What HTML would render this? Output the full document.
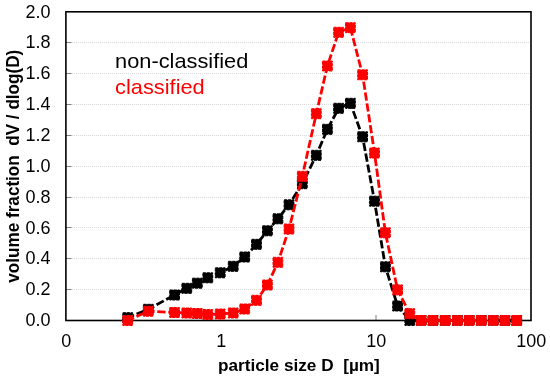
<!DOCTYPE html>
<html><head><meta charset="utf-8"><title>particle size distribution</title>
<style>
html,body{margin:0;padding:0;background:#fff;}
body{width:550px;height:380px;overflow:hidden;}
svg{display:block;}
text{font-family:"Liberation Sans",Arial,Helvetica,sans-serif;}
</style></head><body>
<svg width="550" height="380" viewBox="0 0 550 380">
<rect x="0" y="0" width="550" height="380" fill="#fff"/>
<line x1="65.9" y1="289.50" x2="529" y2="289.50" stroke="#d8d8d8" stroke-width="1" stroke-dasharray="1 1"/>
<line x1="65.9" y1="289.50" x2="71.5" y2="289.50" stroke="#808080" stroke-width="1"/>
<line x1="65.9" y1="258.50" x2="529" y2="258.50" stroke="#d8d8d8" stroke-width="1" stroke-dasharray="1 1"/>
<line x1="65.9" y1="258.50" x2="71.5" y2="258.50" stroke="#808080" stroke-width="1"/>
<line x1="65.9" y1="227.50" x2="529" y2="227.50" stroke="#d8d8d8" stroke-width="1" stroke-dasharray="1 1"/>
<line x1="65.9" y1="227.50" x2="71.5" y2="227.50" stroke="#808080" stroke-width="1"/>
<line x1="65.9" y1="197.50" x2="529" y2="197.50" stroke="#d8d8d8" stroke-width="1" stroke-dasharray="1 1"/>
<line x1="65.9" y1="197.50" x2="71.5" y2="197.50" stroke="#808080" stroke-width="1"/>
<line x1="65.9" y1="166.50" x2="529" y2="166.50" stroke="#d8d8d8" stroke-width="1" stroke-dasharray="1 1"/>
<line x1="65.9" y1="166.50" x2="71.5" y2="166.50" stroke="#808080" stroke-width="1"/>
<line x1="65.9" y1="135.50" x2="529" y2="135.50" stroke="#d8d8d8" stroke-width="1" stroke-dasharray="1 1"/>
<line x1="65.9" y1="135.50" x2="71.5" y2="135.50" stroke="#808080" stroke-width="1"/>
<line x1="65.9" y1="104.50" x2="529" y2="104.50" stroke="#d8d8d8" stroke-width="1" stroke-dasharray="1 1"/>
<line x1="65.9" y1="104.50" x2="71.5" y2="104.50" stroke="#808080" stroke-width="1"/>
<line x1="65.9" y1="73.50" x2="529" y2="73.50" stroke="#d8d8d8" stroke-width="1" stroke-dasharray="1 1"/>
<line x1="65.9" y1="73.50" x2="71.5" y2="73.50" stroke="#808080" stroke-width="1"/>
<line x1="65.9" y1="42.50" x2="529" y2="42.50" stroke="#d8d8d8" stroke-width="1" stroke-dasharray="1 1"/>
<line x1="65.9" y1="42.50" x2="71.5" y2="42.50" stroke="#808080" stroke-width="1"/>
<line x1="221" y1="320.5" x2="221" y2="315.0" stroke="#808080" stroke-width="1"/>
<line x1="376" y1="320.5" x2="376" y2="315.0" stroke="#808080" stroke-width="1"/>
<rect x="65.9" y="11.8" width="465.1" height="308.7" fill="none" stroke="#000" stroke-width="1.6"/>
<line x1="127.7" y1="317.7" x2="148.3" y2="309.3" stroke="#000000" stroke-width="2.8" stroke-dasharray="8.25 2.75" stroke-dashoffset="1.40"/>
<line x1="148.3" y1="309.3" x2="174.6" y2="295.0" stroke="#000000" stroke-width="2.8" stroke-dasharray="8.25 2.75" stroke-dashoffset="1.65"/>
<line x1="174.6" y1="295.0" x2="186.8" y2="288.3" stroke="#000000" stroke-width="2.8" stroke-dasharray="8.25 2.75" stroke-dashoffset="9.58"/>
<line x1="186.8" y1="288.3" x2="197.3" y2="283.2" stroke="#000000" stroke-width="2.8" stroke-dasharray="8.25 2.75" stroke-dashoffset="1.50"/>
<line x1="197.3" y1="283.2" x2="207.8" y2="277.8" stroke="#000000" stroke-width="2.8" stroke-dasharray="8.25 2.75" stroke-dashoffset="2.17"/>
<line x1="207.8" y1="277.8" x2="220.2" y2="272.8" stroke="#000000" stroke-width="2.8" stroke-dasharray="8.25 2.75" stroke-dashoffset="2.98"/>
<line x1="220.2" y1="272.8" x2="233.2" y2="266.3" stroke="#000000" stroke-width="2.8" stroke-dasharray="8.25 2.75" stroke-dashoffset="5.35"/>
<line x1="233.2" y1="266.3" x2="244.7" y2="257.0" stroke="#000000" stroke-width="2.8" stroke-dasharray="8.25 2.75" stroke-dashoffset="8.89"/>
<line x1="244.7" y1="257.0" x2="256.5" y2="244.3" stroke="#000000" stroke-width="2.8" stroke-dasharray="8.25 2.75" stroke-dashoffset="1.68"/>
<line x1="256.5" y1="244.3" x2="267.4" y2="230.8" stroke="#000000" stroke-width="2.8" stroke-dasharray="8.25 2.75" stroke-dashoffset="8.01"/>
<line x1="267.4" y1="230.8" x2="277.9" y2="218.8" stroke="#000000" stroke-width="2.8" stroke-dasharray="8.25 2.75" stroke-dashoffset="3.36"/>
<line x1="277.9" y1="218.8" x2="289.0" y2="204.8" stroke="#000000" stroke-width="2.8" stroke-dasharray="8.25 2.75" stroke-dashoffset="8.31"/>
<line x1="289.0" y1="204.8" x2="302.3" y2="183.7" stroke="#000000" stroke-width="2.8" stroke-dasharray="8.25 2.75" stroke-dashoffset="4.17"/>
<line x1="302.3" y1="183.7" x2="316.3" y2="155.3" stroke="#000000" stroke-width="2.8" stroke-dasharray="8.25 2.75" stroke-dashoffset="5.12"/>
<line x1="316.3" y1="155.3" x2="327.4" y2="129.3" stroke="#000000" stroke-width="2.8" stroke-dasharray="8.25 2.75" stroke-dashoffset="3.78"/>
<line x1="327.4" y1="129.3" x2="338.6" y2="108.3" stroke="#000000" stroke-width="2.8" stroke-dasharray="8.25 2.75" stroke-dashoffset="10.05"/>
<line x1="338.6" y1="108.3" x2="350.4" y2="103.3" stroke="#000000" stroke-width="2.8" stroke-dasharray="8.25 2.75" stroke-dashoffset="0.85"/>
<line x1="350.4" y1="103.3" x2="362.6" y2="136.8" stroke="#000000" stroke-width="2.8" stroke-dasharray="8.25 2.75" stroke-dashoffset="2.67"/>
<line x1="362.6" y1="136.8" x2="374.5" y2="201.2" stroke="#000000" stroke-width="2.8" stroke-dasharray="8.25 2.75" stroke-dashoffset="4.92"/>
<line x1="374.5" y1="201.2" x2="385.4" y2="266.8" stroke="#000000" stroke-width="2.8" stroke-dasharray="8.25 2.75" stroke-dashoffset="4.41"/>
<line x1="385.4" y1="266.8" x2="397.6" y2="306.0" stroke="#000000" stroke-width="2.8" stroke-dasharray="8.25 2.75" stroke-dashoffset="4.91"/>
<line x1="397.6" y1="306.0" x2="409.8" y2="320.4" stroke="#000000" stroke-width="2.8" stroke-dasharray="8.25 2.75" stroke-dashoffset="1.96"/>
<line x1="409.8" y1="320.4" x2="421.2" y2="320.5" stroke="#000000" stroke-width="2.8" stroke-dasharray="8.25 2.75" stroke-dashoffset="9.84"/>
<line x1="421.2" y1="320.5" x2="433.0" y2="320.5" stroke="#000000" stroke-width="2.8" stroke-dasharray="8.25 2.75" stroke-dashoffset="10.24"/>
<line x1="433.0" y1="320.5" x2="445.2" y2="320.5" stroke="#000000" stroke-width="2.8" stroke-dasharray="8.25 2.75" stroke-dashoffset="0.04"/>
<line x1="445.2" y1="320.5" x2="457.4" y2="320.5" stroke="#000000" stroke-width="2.8" stroke-dasharray="8.25 2.75" stroke-dashoffset="1.24"/>
<line x1="457.4" y1="320.5" x2="469.3" y2="320.5" stroke="#000000" stroke-width="2.8" stroke-dasharray="8.25 2.75" stroke-dashoffset="2.44"/>
<line x1="469.3" y1="320.5" x2="481.3" y2="320.5" stroke="#000000" stroke-width="2.8" stroke-dasharray="8.25 2.75" stroke-dashoffset="3.34"/>
<line x1="481.3" y1="320.5" x2="493.3" y2="320.5" stroke="#000000" stroke-width="2.8" stroke-dasharray="8.25 2.75" stroke-dashoffset="4.34"/>
<line x1="493.3" y1="320.5" x2="505.0" y2="320.5" stroke="#000000" stroke-width="2.8" stroke-dasharray="8.25 2.75" stroke-dashoffset="5.34"/>
<line x1="505.0" y1="320.5" x2="516.7" y2="320.5" stroke="#000000" stroke-width="2.8" stroke-dasharray="8.25 2.75" stroke-dashoffset="6.04"/>
<rect x="122.8" y="312.7" width="9.8" height="10.0" fill="#000000" stroke="#000000" stroke-width="1" stroke-dasharray="3 1"/>
<rect x="143.4" y="304.3" width="9.8" height="10.0" fill="#000000" stroke="#000000" stroke-width="1" stroke-dasharray="3 1"/>
<rect x="169.7" y="290.0" width="9.8" height="10.0" fill="#000000" stroke="#000000" stroke-width="1" stroke-dasharray="3 1"/>
<rect x="181.9" y="283.3" width="9.8" height="10.0" fill="#000000" stroke="#000000" stroke-width="1" stroke-dasharray="3 1"/>
<rect x="192.4" y="278.2" width="9.8" height="10.0" fill="#000000" stroke="#000000" stroke-width="1" stroke-dasharray="3 1"/>
<rect x="202.9" y="272.8" width="9.8" height="10.0" fill="#000000" stroke="#000000" stroke-width="1" stroke-dasharray="3 1"/>
<rect x="215.3" y="267.8" width="9.8" height="10.0" fill="#000000" stroke="#000000" stroke-width="1" stroke-dasharray="3 1"/>
<rect x="228.3" y="261.3" width="9.8" height="10.0" fill="#000000" stroke="#000000" stroke-width="1" stroke-dasharray="3 1"/>
<rect x="239.8" y="252.0" width="9.8" height="10.0" fill="#000000" stroke="#000000" stroke-width="1" stroke-dasharray="3 1"/>
<rect x="251.6" y="239.3" width="9.8" height="10.0" fill="#000000" stroke="#000000" stroke-width="1" stroke-dasharray="3 1"/>
<rect x="262.5" y="225.8" width="9.8" height="10.0" fill="#000000" stroke="#000000" stroke-width="1" stroke-dasharray="3 1"/>
<rect x="273.0" y="213.8" width="9.8" height="10.0" fill="#000000" stroke="#000000" stroke-width="1" stroke-dasharray="3 1"/>
<rect x="284.1" y="199.8" width="9.8" height="10.0" fill="#000000" stroke="#000000" stroke-width="1" stroke-dasharray="3 1"/>
<rect x="297.4" y="178.7" width="9.8" height="10.0" fill="#000000" stroke="#000000" stroke-width="1" stroke-dasharray="3 1"/>
<rect x="311.4" y="150.3" width="9.8" height="10.0" fill="#000000" stroke="#000000" stroke-width="1" stroke-dasharray="3 1"/>
<rect x="322.5" y="124.3" width="9.8" height="10.0" fill="#000000" stroke="#000000" stroke-width="1" stroke-dasharray="3 1"/>
<rect x="333.7" y="103.3" width="9.8" height="10.0" fill="#000000" stroke="#000000" stroke-width="1" stroke-dasharray="3 1"/>
<rect x="345.5" y="98.3" width="9.8" height="10.0" fill="#000000" stroke="#000000" stroke-width="1" stroke-dasharray="3 1"/>
<rect x="357.7" y="131.8" width="9.8" height="10.0" fill="#000000" stroke="#000000" stroke-width="1" stroke-dasharray="3 1"/>
<rect x="369.6" y="196.2" width="9.8" height="10.0" fill="#000000" stroke="#000000" stroke-width="1" stroke-dasharray="3 1"/>
<rect x="380.5" y="261.8" width="9.8" height="10.0" fill="#000000" stroke="#000000" stroke-width="1" stroke-dasharray="3 1"/>
<rect x="392.7" y="301.0" width="9.8" height="10.0" fill="#000000" stroke="#000000" stroke-width="1" stroke-dasharray="3 1"/>
<rect x="404.9" y="315.4" width="9.8" height="10.0" fill="#000000" stroke="#000000" stroke-width="1" stroke-dasharray="3 1"/>
<rect x="416.3" y="315.5" width="9.8" height="10.0" fill="#000000" stroke="#000000" stroke-width="1" stroke-dasharray="3 1"/>
<rect x="428.1" y="315.5" width="9.8" height="10.0" fill="#000000" stroke="#000000" stroke-width="1" stroke-dasharray="3 1"/>
<rect x="440.3" y="315.5" width="9.8" height="10.0" fill="#000000" stroke="#000000" stroke-width="1" stroke-dasharray="3 1"/>
<rect x="452.5" y="315.5" width="9.8" height="10.0" fill="#000000" stroke="#000000" stroke-width="1" stroke-dasharray="3 1"/>
<rect x="464.4" y="315.5" width="9.8" height="10.0" fill="#000000" stroke="#000000" stroke-width="1" stroke-dasharray="3 1"/>
<rect x="476.4" y="315.5" width="9.8" height="10.0" fill="#000000" stroke="#000000" stroke-width="1" stroke-dasharray="3 1"/>
<rect x="488.4" y="315.5" width="9.8" height="10.0" fill="#000000" stroke="#000000" stroke-width="1" stroke-dasharray="3 1"/>
<rect x="500.1" y="315.5" width="9.8" height="10.0" fill="#000000" stroke="#000000" stroke-width="1" stroke-dasharray="3 1"/>
<rect x="511.8" y="315.5" width="9.8" height="10.0" fill="#000000" stroke="#000000" stroke-width="1" stroke-dasharray="3 1"/>
<line x1="127.7" y1="320.5" x2="148.3" y2="311.2" stroke="#ff0000" stroke-width="2.8" stroke-dasharray="8.25 2.75" stroke-dashoffset="1.40"/>
<line x1="148.3" y1="311.2" x2="174.6" y2="312.5" stroke="#ff0000" stroke-width="2.8" stroke-dasharray="8.25 2.75" stroke-dashoffset="2.00"/>
<line x1="174.6" y1="312.5" x2="186.8" y2="313.0" stroke="#ff0000" stroke-width="2.8" stroke-dasharray="8.25 2.75" stroke-dashoffset="6.33"/>
<line x1="186.8" y1="313.0" x2="197.3" y2="313.5" stroke="#ff0000" stroke-width="2.8" stroke-dasharray="8.25 2.75" stroke-dashoffset="7.54"/>
<line x1="197.3" y1="313.5" x2="207.8" y2="314.5" stroke="#ff0000" stroke-width="2.8" stroke-dasharray="8.25 2.75" stroke-dashoffset="7.06"/>
<line x1="207.8" y1="314.5" x2="220.2" y2="314.0" stroke="#ff0000" stroke-width="2.8" stroke-dasharray="8.25 2.75" stroke-dashoffset="6.60"/>
<line x1="220.2" y1="314.0" x2="233.2" y2="313.0" stroke="#ff0000" stroke-width="2.8" stroke-dasharray="8.25 2.75" stroke-dashoffset="8.01"/>
<line x1="233.2" y1="313.0" x2="244.7" y2="309.0" stroke="#ff0000" stroke-width="2.8" stroke-dasharray="8.25 2.75" stroke-dashoffset="10.05"/>
<line x1="244.7" y1="309.0" x2="256.5" y2="300.3" stroke="#ff0000" stroke-width="2.8" stroke-dasharray="8.25 2.75" stroke-dashoffset="0.23"/>
<line x1="256.5" y1="300.3" x2="267.4" y2="285.0" stroke="#ff0000" stroke-width="2.8" stroke-dasharray="8.25 2.75" stroke-dashoffset="3.89"/>
<line x1="267.4" y1="285.0" x2="277.9" y2="262.3" stroke="#ff0000" stroke-width="2.8" stroke-dasharray="8.25 2.75" stroke-dashoffset="0.67"/>
<line x1="277.9" y1="262.3" x2="289.0" y2="229.0" stroke="#ff0000" stroke-width="2.8" stroke-dasharray="8.25 2.75" stroke-dashoffset="3.68"/>
<line x1="289.0" y1="229.0" x2="302.3" y2="176.3" stroke="#ff0000" stroke-width="2.8" stroke-dasharray="8.25 2.75" stroke-dashoffset="4.69"/>
<line x1="302.3" y1="176.3" x2="316.3" y2="113.7" stroke="#ff0000" stroke-width="2.8" stroke-dasharray="8.25 2.75" stroke-dashoffset="4.04"/>
<line x1="316.3" y1="113.7" x2="327.4" y2="66.0" stroke="#ff0000" stroke-width="2.8" stroke-dasharray="8.25 2.75" stroke-dashoffset="2.18"/>
<line x1="327.4" y1="66.0" x2="338.6" y2="32.3" stroke="#ff0000" stroke-width="2.8" stroke-dasharray="8.25 2.75" stroke-dashoffset="7.16"/>
<line x1="338.6" y1="32.3" x2="350.4" y2="27.7" stroke="#ff0000" stroke-width="2.8" stroke-dasharray="8.25 2.75" stroke-dashoffset="9.67"/>
<line x1="350.4" y1="27.7" x2="362.6" y2="74.8" stroke="#ff0000" stroke-width="2.8" stroke-dasharray="8.25 2.75" stroke-dashoffset="0.14"/>
<line x1="362.6" y1="74.8" x2="374.5" y2="153.0" stroke="#ff0000" stroke-width="2.8" stroke-dasharray="8.25 2.75" stroke-dashoffset="4.09"/>
<line x1="374.5" y1="153.0" x2="385.4" y2="232.8" stroke="#ff0000" stroke-width="2.8" stroke-dasharray="8.25 2.75" stroke-dashoffset="6.19"/>
<line x1="385.4" y1="232.8" x2="397.6" y2="289.9" stroke="#ff0000" stroke-width="2.8" stroke-dasharray="8.25 2.75" stroke-dashoffset="9.23"/>
<line x1="397.6" y1="289.9" x2="409.8" y2="313.7" stroke="#ff0000" stroke-width="2.8" stroke-dasharray="8.25 2.75" stroke-dashoffset="1.62"/>
<line x1="409.8" y1="313.7" x2="421.2" y2="320.5" stroke="#ff0000" stroke-width="2.8" stroke-dasharray="8.25 2.75" stroke-dashoffset="6.37"/>
<line x1="421.2" y1="320.5" x2="433.0" y2="320.5" stroke="#ff0000" stroke-width="2.8" stroke-dasharray="8.25 2.75" stroke-dashoffset="8.64"/>
<line x1="433.0" y1="320.5" x2="445.2" y2="320.5" stroke="#ff0000" stroke-width="2.8" stroke-dasharray="8.25 2.75" stroke-dashoffset="9.44"/>
<line x1="445.2" y1="320.5" x2="457.4" y2="320.5" stroke="#ff0000" stroke-width="2.8" stroke-dasharray="8.25 2.75" stroke-dashoffset="10.64"/>
<line x1="457.4" y1="320.5" x2="469.3" y2="320.5" stroke="#ff0000" stroke-width="2.8" stroke-dasharray="8.25 2.75" stroke-dashoffset="0.84"/>
<line x1="469.3" y1="320.5" x2="481.3" y2="320.5" stroke="#ff0000" stroke-width="2.8" stroke-dasharray="8.25 2.75" stroke-dashoffset="1.74"/>
<line x1="481.3" y1="320.5" x2="493.3" y2="320.5" stroke="#ff0000" stroke-width="2.8" stroke-dasharray="8.25 2.75" stroke-dashoffset="2.74"/>
<line x1="493.3" y1="320.5" x2="505.0" y2="320.5" stroke="#ff0000" stroke-width="2.8" stroke-dasharray="8.25 2.75" stroke-dashoffset="3.74"/>
<line x1="505.0" y1="320.5" x2="516.7" y2="320.5" stroke="#ff0000" stroke-width="2.8" stroke-dasharray="8.25 2.75" stroke-dashoffset="4.44"/>
<rect x="122.8" y="315.5" width="9.8" height="10.0" fill="#ff0000" stroke="#ff0000" stroke-width="1" stroke-dasharray="3 1"/>
<rect x="143.4" y="306.2" width="9.8" height="10.0" fill="#ff0000" stroke="#ff0000" stroke-width="1" stroke-dasharray="3 1"/>
<rect x="169.7" y="307.5" width="9.8" height="10.0" fill="#ff0000" stroke="#ff0000" stroke-width="1" stroke-dasharray="3 1"/>
<rect x="181.9" y="308.0" width="9.8" height="10.0" fill="#ff0000" stroke="#ff0000" stroke-width="1" stroke-dasharray="3 1"/>
<rect x="192.4" y="308.5" width="9.8" height="10.0" fill="#ff0000" stroke="#ff0000" stroke-width="1" stroke-dasharray="3 1"/>
<rect x="202.9" y="309.5" width="9.8" height="10.0" fill="#ff0000" stroke="#ff0000" stroke-width="1" stroke-dasharray="3 1"/>
<rect x="215.3" y="309.0" width="9.8" height="10.0" fill="#ff0000" stroke="#ff0000" stroke-width="1" stroke-dasharray="3 1"/>
<rect x="228.3" y="308.0" width="9.8" height="10.0" fill="#ff0000" stroke="#ff0000" stroke-width="1" stroke-dasharray="3 1"/>
<rect x="239.8" y="304.0" width="9.8" height="10.0" fill="#ff0000" stroke="#ff0000" stroke-width="1" stroke-dasharray="3 1"/>
<rect x="251.6" y="295.3" width="9.8" height="10.0" fill="#ff0000" stroke="#ff0000" stroke-width="1" stroke-dasharray="3 1"/>
<rect x="262.5" y="280.0" width="9.8" height="10.0" fill="#ff0000" stroke="#ff0000" stroke-width="1" stroke-dasharray="3 1"/>
<rect x="273.0" y="257.3" width="9.8" height="10.0" fill="#ff0000" stroke="#ff0000" stroke-width="1" stroke-dasharray="3 1"/>
<rect x="284.1" y="224.0" width="9.8" height="10.0" fill="#ff0000" stroke="#ff0000" stroke-width="1" stroke-dasharray="3 1"/>
<rect x="297.4" y="171.3" width="9.8" height="10.0" fill="#ff0000" stroke="#ff0000" stroke-width="1" stroke-dasharray="3 1"/>
<rect x="311.4" y="108.7" width="9.8" height="10.0" fill="#ff0000" stroke="#ff0000" stroke-width="1" stroke-dasharray="3 1"/>
<rect x="322.5" y="61.0" width="9.8" height="10.0" fill="#ff0000" stroke="#ff0000" stroke-width="1" stroke-dasharray="3 1"/>
<rect x="333.7" y="27.3" width="9.8" height="10.0" fill="#ff0000" stroke="#ff0000" stroke-width="1" stroke-dasharray="3 1"/>
<rect x="345.5" y="22.7" width="9.8" height="10.0" fill="#ff0000" stroke="#ff0000" stroke-width="1" stroke-dasharray="3 1"/>
<rect x="357.7" y="69.8" width="9.8" height="10.0" fill="#ff0000" stroke="#ff0000" stroke-width="1" stroke-dasharray="3 1"/>
<rect x="369.6" y="148.0" width="9.8" height="10.0" fill="#ff0000" stroke="#ff0000" stroke-width="1" stroke-dasharray="3 1"/>
<rect x="380.5" y="227.8" width="9.8" height="10.0" fill="#ff0000" stroke="#ff0000" stroke-width="1" stroke-dasharray="3 1"/>
<rect x="392.7" y="284.9" width="9.8" height="10.0" fill="#ff0000" stroke="#ff0000" stroke-width="1" stroke-dasharray="3 1"/>
<rect x="404.9" y="308.7" width="9.8" height="10.0" fill="#ff0000" stroke="#ff0000" stroke-width="1" stroke-dasharray="3 1"/>
<rect x="416.3" y="315.5" width="9.8" height="10.0" fill="#ff0000" stroke="#ff0000" stroke-width="1" stroke-dasharray="3 1"/>
<rect x="428.1" y="315.5" width="9.8" height="10.0" fill="#ff0000" stroke="#ff0000" stroke-width="1" stroke-dasharray="3 1"/>
<rect x="440.3" y="315.5" width="9.8" height="10.0" fill="#ff0000" stroke="#ff0000" stroke-width="1" stroke-dasharray="3 1"/>
<rect x="452.5" y="315.5" width="9.8" height="10.0" fill="#ff0000" stroke="#ff0000" stroke-width="1" stroke-dasharray="3 1"/>
<rect x="464.4" y="315.5" width="9.8" height="10.0" fill="#ff0000" stroke="#ff0000" stroke-width="1" stroke-dasharray="3 1"/>
<rect x="476.4" y="315.5" width="9.8" height="10.0" fill="#ff0000" stroke="#ff0000" stroke-width="1" stroke-dasharray="3 1"/>
<rect x="488.4" y="315.5" width="9.8" height="10.0" fill="#ff0000" stroke="#ff0000" stroke-width="1" stroke-dasharray="3 1"/>
<rect x="500.1" y="315.5" width="9.8" height="10.0" fill="#ff0000" stroke="#ff0000" stroke-width="1" stroke-dasharray="3 1"/>
<rect x="511.8" y="315.5" width="9.8" height="10.0" fill="#ff0000" stroke="#ff0000" stroke-width="1" stroke-dasharray="3 1"/>
<text transform="translate(50.5,326.20) scale(1.027,1)" font-size="17.5" text-anchor="end" fill="#000">0.0</text>
<text transform="translate(50.5,295.33) scale(1.027,1)" font-size="17.5" text-anchor="end" fill="#000">0.2</text>
<text transform="translate(50.5,264.46) scale(1.027,1)" font-size="17.5" text-anchor="end" fill="#000">0.4</text>
<text transform="translate(50.5,233.59) scale(1.027,1)" font-size="17.5" text-anchor="end" fill="#000">0.6</text>
<text transform="translate(50.5,202.72) scale(1.027,1)" font-size="17.5" text-anchor="end" fill="#000">0.8</text>
<text transform="translate(50.5,171.85) scale(1.027,1)" font-size="17.5" text-anchor="end" fill="#000">1.0</text>
<text transform="translate(50.5,140.98) scale(1.027,1)" font-size="17.5" text-anchor="end" fill="#000">1.2</text>
<text transform="translate(50.5,110.11) scale(1.027,1)" font-size="17.5" text-anchor="end" fill="#000">1.4</text>
<text transform="translate(50.5,79.24) scale(1.027,1)" font-size="17.5" text-anchor="end" fill="#000">1.6</text>
<text transform="translate(50.5,48.37) scale(1.027,1)" font-size="17.5" text-anchor="end" fill="#000">1.8</text>
<text transform="translate(50.5,17.50) scale(1.027,1)" font-size="17.5" text-anchor="end" fill="#000">2.0</text>
<text transform="translate(66.3,347.3) scale(1.027,1)" font-size="17.5" text-anchor="middle" fill="#000">0</text>
<text transform="translate(221.3,347.3) scale(1.027,1)" font-size="17.5" text-anchor="middle" fill="#000">1</text>
<text transform="translate(376.3,347.3) scale(1.027,1)" font-size="17.5" text-anchor="middle" fill="#000">10</text>
<text transform="translate(531.3,347.3) scale(1.027,1)" font-size="17.5" text-anchor="middle" fill="#000">100</text>
<text transform="translate(298.9,371.0) scale(1.03,1)" font-size="16.7" font-weight="bold" text-anchor="middle" fill="#000" xml:space="preserve" style="white-space:pre">particle size D  [µm]</text>
<text transform="translate(18.5,166.2) scale(1.07,1) rotate(-90)" font-size="17.13" font-weight="bold" text-anchor="middle" fill="#000" xml:space="preserve" style="white-space:pre">volume fraction  dV / dlog(D)</text>
<text transform="translate(115.1,68.1) scale(1.038,1)" font-size="21" fill="#000">non-classified</text>
<text transform="translate(115.1,93.5) scale(1.038,1)" font-size="21" fill="#ff0000">classified</text>
</svg>
</body></html>
